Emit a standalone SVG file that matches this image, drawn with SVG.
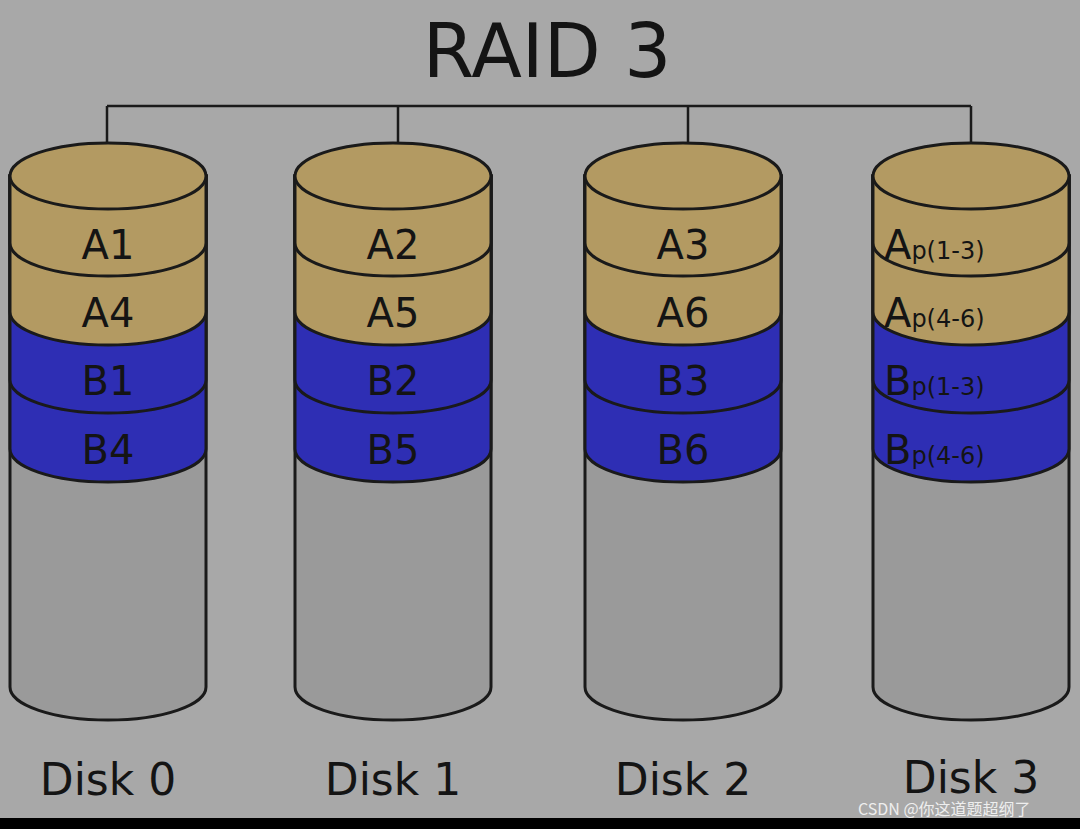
<svg xmlns="http://www.w3.org/2000/svg" width="1080" height="829" viewBox="0 0 1080 829">
<style>
.bg{fill:#a8a8a8}
.s{stroke:#1a1a1a;stroke-width:3}
.g{fill:#b39a62}
.b{fill:#2e2eb4}
.r{fill:#9a9a9a}
text{font-family:"DejaVu Sans",sans-serif;fill:#141414;text-anchor:middle}
.l{font-size:40px}
.sub{font-size:24px}
.d{font-size:44px}
.w{font-family:"Noto Sans CJK SC",sans-serif;font-size:16px;fill:#eeeeee;text-anchor:start}
</style>
<defs>
<g id="cyl">
<path class="r s" d="M-98,176 L-98,687 A98,33 0 0 0 98,687 L98,176 Z"/>
<path class="b s" d="M-98,176 L-98,449 A98,33 0 0 0 98,449 L98,176 Z"/>
<path class="b s" d="M-98,176 L-98,380 A98,33 0 0 0 98,380 L98,176 Z"/>
<path class="g s" d="M-98,176 L-98,312 A98,33 0 0 0 98,312 L98,176 Z"/>
<path class="g s" d="M-98,176 L-98,243 A98,33 0 0 0 98,243 L98,176 Z"/>
<ellipse class="g s" cx="0" cy="176" rx="98" ry="33"/>
</g>
</defs>
<rect class="bg" width="1080" height="829"/>
<rect x="0" y="818" width="1080" height="11" fill="#000"/>
<text x="547" y="77" style="font-size:74px">RAID 3</text>
<g id="connectors" fill="none" stroke="#1a1a1a" stroke-width="2.5">
<path d="M107,106 H971 M107,106 V176 M398,106 V176 M688,106 V176 M971,106 V176"/>
</g>
<g id="disk0" transform="translate(108,0)"><use href="#cyl"/>
<text class="l" y="259">A1</text><text class="l" y="327">A4</text><text class="l" y="395">B1</text><text class="l" y="464">B4</text>
<text class="d" y="795">Disk 0</text></g>
<g id="disk1" transform="translate(393,0)"><use href="#cyl"/>
<text class="l" y="259">A2</text><text class="l" y="327">A5</text><text class="l" y="395">B2</text><text class="l" y="464">B5</text>
<text class="d" y="795">Disk 1</text></g>
<g id="disk2" transform="translate(683,0)"><use href="#cyl"/>
<text class="l" y="259">A3</text><text class="l" y="327">A6</text><text class="l" y="395">B3</text><text class="l" y="464">B6</text>
<text class="d" y="795">Disk 2</text></g>
<g id="disk3" transform="translate(971,0)"><use href="#cyl"/>
<text class="l" y="259" style="text-anchor:start" x="-87">A<tspan class="sub">p(1-3)</tspan></text>
<text class="l" y="327" style="text-anchor:start" x="-87">A<tspan class="sub">p(4-6)</tspan></text>
<text class="l" y="395" style="text-anchor:start" x="-87">B<tspan class="sub">p(1-3)</tspan></text>
<text class="l" y="464" style="text-anchor:start" x="-87">B<tspan class="sub">p(4-6)</tspan></text>
<text class="d" y="793">Disk 3</text></g>
<text class="w" x="858" y="815">CSDN @你这道题超纲了</text>
</svg>
